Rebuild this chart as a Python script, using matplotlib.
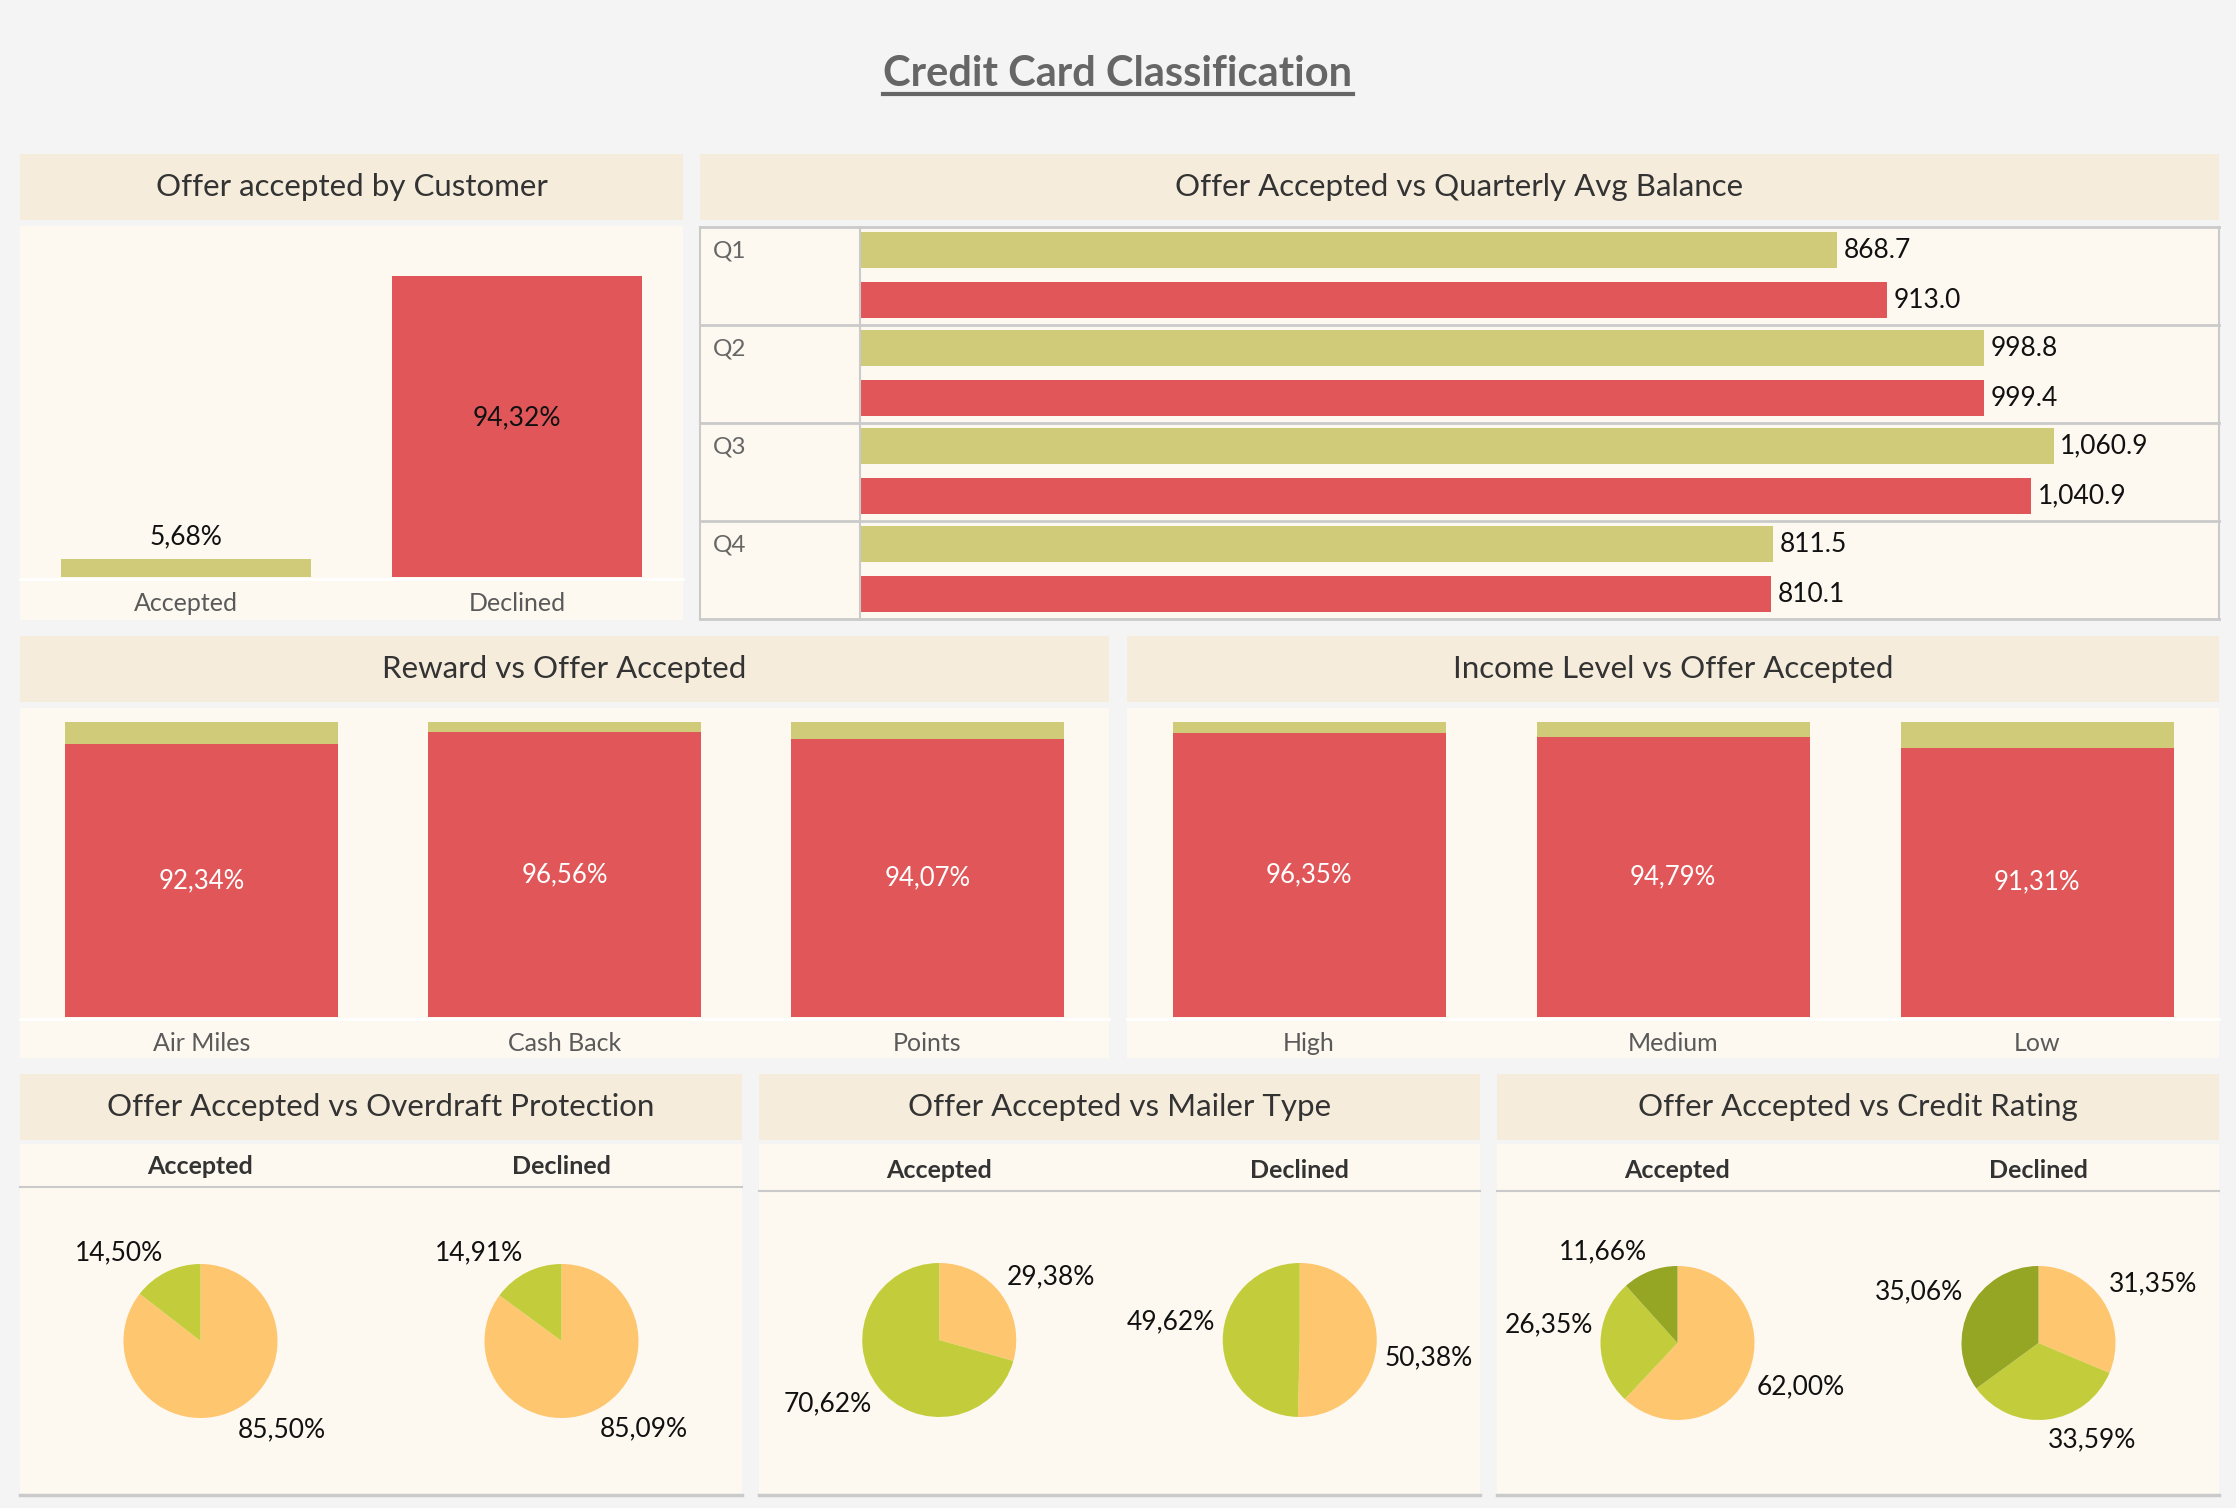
import numpy as np
import matplotlib
matplotlib.use("Agg")
from matplotlib import pyplot as plt
from matplotlib.patches import Rectangle
from matplotlib.lines import Line2D

plt.rcParams['font.family'] = ['Lato', 'DejaVu Sans']

# ---- data ----
offer_cats = ['Accepted', 'Declined']
offer_share = [5.68, 94.32]

quarters = ['Q1', 'Q2', 'Q3', 'Q4']
q_accepted = [868.7, 998.8, 1060.9, 811.5]
q_declined = [913.0, 999.4, 1040.9, 810.1]

reward_cats = ['Air Miles', 'Cash Back', 'Points']
reward_declined = [92.34, 96.56, 94.07]
reward_accepted = [7.66, 3.44, 5.93]

income_cats = ['High', 'Medium', 'Low']
income_declined = [96.35, 94.79, 91.31]
income_accepted = [3.65, 5.21, 8.69]

pie_cols = ['Accepted', 'Declined']
overdraft_acc = [85.50, 14.50]
overdraft_dec = [85.09, 14.91]
mailer_acc = [29.38, 70.62]
mailer_dec = [50.38, 49.62]
credit_acc = [62.00, 26.35, 11.66]
credit_dec = [31.35, 33.59, 35.06]

# ---- colours ----
PAGE = '#F4F4F4'
HEAD = '#F5ECDC'
BODY = '#FDF9F0'
OLIVE = '#CFCB79'
RED = '#E15759'
ORANGE = '#FDC66F'
GREEN = '#C3CD3C'
DKGREEN = '#95A524'
GRID = '#CACACA'
TXT = '#333333'
TICK = '#5A5A5A'

W, H = 2236, 1508
fig = plt.figure(figsize=(W / 100, H / 100), dpi=100)
fig.patch.set_facecolor(PAGE)


def rect(x0, y0, x1, y1):
    return [x0 / W, 1 - y1 / H, (x1 - x0) / W, (y1 - y0) / H]


def box(x0, y0, x1, y1, color):
    fig.add_artist(Rectangle((x0 / W, 1 - y1 / H), (x1 - x0) / W, (y1 - y0) / H,
                             transform=fig.transFigure, facecolor=color,
                             edgecolor='none', zorder=0))


def hline(x0, x1, y, color=GRID, lw=1.5):
    fig.add_artist(Line2D([x0 / W, x1 / W], [1 - y / H, 1 - y / H],
                          transform=fig.transFigure, color=color, lw=lw, zorder=1))


def vline(x, y0, y1, color=GRID, lw=1.5):
    fig.add_artist(Line2D([x / W, x / W], [1 - y0 / H, 1 - y1 / H],
                          transform=fig.transFigure, color=color, lw=lw, zorder=1))


def ftext(x, y, s, **kw):
    return fig.text(x / W, 1 - y / H, s, **kw)


def panel(x0, x1, hy0, hy1, by0, by1, title):
    box(x0, hy0, x1, hy1, HEAD)
    box(x0, by0, x1, by1, BODY)
    ftext((x0 + x1) / 2, (hy0 + hy1) / 2, title, ha='center', va='center',
          fontsize=22.5, color=TXT)


def pct(v):
    return f'{v:.2f}%'.replace('.', ',')


# ---- title (underlined) ----
t = ftext(1118, 74, 'Credit Card Classification', ha='center', va='center',
          fontsize=30, fontweight='bold', color='#666666')
bb = t.get_window_extent(renderer=fig.canvas.get_renderer())
hline(bb.x0, bb.x1, 94, color='#666666', lw=3)

# ---- row 1 left: offer accepted ----
panel(20, 683, 154, 220, 226, 620, 'Offer accepted by Customer')
hline(20, 683, 579, color='#FFFFFF', lw=2)
ax = fig.add_axes(rect(20, 226, 683, 577))
ax.set_facecolor('none')
ax.bar(range(2), offer_share, width=0.754, color=[OLIVE, RED])
ax.set_xlim(-0.5, 1.5)
ax.set_ylim(0, 110)
for s in ax.spines.values():
    s.set_visible(False)
ax.set_yticks([])
ax.set_xticks(range(2), offer_cats)
ax.tick_params(axis='x', length=0, pad=11, labelsize=18, labelcolor=TICK)
ax.annotate(pct(offer_share[0]), (0, offer_share[0]), xytext=(0, 7),
            textcoords='offset points', ha='center', va='bottom', fontsize=19, color='#111111')
ax.text(1, offer_share[1] * 0.53, pct(offer_share[1]), ha='center', va='center',
        fontsize=19, color='#111111')

# ---- row 1 right: quarterly balance ----
panel(700, 2219, 154, 220, 226, 620, 'Offer Accepted vs Quarterly Avg Balance')
lab = fig.add_axes(rect(700, 227, 860, 619))
lab.set_facecolor('none')
lab.set_xlim(0, 1)
lab.set_ylim(len(quarters), 0)
lab.axis('off')
for i, q in enumerate(quarters):
    lab.text(0.08, i + 0.24, q, ha='left', va='center', fontsize=17.5, color='#666666')

ax = fig.add_axes(rect(860, 227, 2219, 619))
ax.set_facecolor('none')
y = np.arange(len(quarters))
ax.barh(y + 0.235, q_accepted, height=0.367, color=OLIVE)
ax.barh(y + 0.745, q_declined, height=0.367, color=RED)
ax.set_xlim(0, 1208)
ax.set_ylim(len(quarters), 0)
ax.axis('off')
for i in range(len(quarters)):
    ax.text(q_accepted[i] + 6, i + 0.235, f'{q_accepted[i]:,.1f}', ha='left',
            va='center', fontsize=19, color='#111111')
    ax.text(q_declined[i] + 6, i + 0.745, f'{q_declined[i]:,.1f}', ha='left',
            va='center', fontsize=19, color='#111111')
row_h = (619 - 227) / len(quarters)
for i in range(len(quarters) + 1):
    hline(700, 2219, 227 + i * row_h, lw=2)
vline(860, 227, 619)
vline(700, 227, 619)
vline(2219, 227, 619)


# ---- row 2: stacked 100% bars ----
def stacked(x0, x1, title, cats, dec, acc):
    panel(x0, x1, 636, 702, 708, 1058, title)
    hline(x0, x1, 1019, color='#FFFFFF', lw=2)
    ax = fig.add_axes(rect(x0, 708, x1, 1017))
    ax.set_facecolor('none')
    xs = np.arange(len(cats))
    ax.bar(xs, dec, width=0.75, color=RED)
    ax.bar(xs, acc, bottom=dec, width=0.75, color=OLIVE)
    ax.set_xlim(-0.5, len(cats) - 0.5)
    ax.set_ylim(0, 104.7)
    for s in ax.spines.values():
        s.set_visible(False)
    ax.set_yticks([])
    ax.set_xticks(xs, cats)
    ax.tick_params(axis='x', length=0, pad=11, labelsize=18, labelcolor=TICK)
    for xi, d in zip(xs, dec):
        ax.text(xi, d / 2, pct(d), ha='center', va='center', fontsize=18.5, color='white')


stacked(20, 1109, 'Reward vs Offer Accepted', reward_cats, reward_declined, reward_accepted)
stacked(1127, 2219, 'Income Level vs Offer Accepted', income_cats, income_declined, income_accepted)

# ---- row 3: pies ----
R = 77


def pie(cx, cy, vals, colors):
    half = 160
    ax = fig.add_axes(rect(cx - half, cy - half, cx + half, cy + half))
    ax.set_facecolor('none')
    wedges, _ = ax.pie(vals, colors=colors, startangle=90, counterclock=False,
                       radius=1, wedgeprops=dict(linewidth=0))
    ax.set_xlim(-half / R, half / R)
    ax.set_ylim(-half / R, half / R)
    ax.set_aspect('equal')
    ax.axis('off')
    for w, v in zip(wedges, vals):
        ang = np.deg2rad((w.theta1 + w.theta2) / 2)
        c, s = np.cos(ang), np.sin(ang)
        ha = 'left' if c > 0.05 else ('right' if c < -0.05 else 'center')
        if s > 0.3:
            va, ty = 'bottom', 1.1 * s
        elif s < -0.3:
            va, ty = 'top', 1.1 * s
        else:
            # tableau nudges side labels off the horizontal
            va, ty = 'center', 1.1 * s + 0.22 * np.sign(s)
        ax.text(1.1 * c, ty, pct(v), ha=ha, va=va, fontsize=19, color='#111111')


def pie_panel(x0, x1, title, acc, dec, colors, hy, sy, cy):
    panel(x0, x1, 1074, 1140, 1144, 1495, title)
    hline(x0, x1, sy, lw=1.5)
    hline(x0, x1, 1495, lw=2.5)
    q = (x1 - x0) / 4
    for k, (name, vals) in enumerate(zip(pie_cols, [acc, dec])):
        cx = x0 + q * (1 + 2 * k)
        ftext(cx, hy, name, ha='center', va='center', fontsize=18,
              fontweight='bold', color=TXT)
        pie(cx, cy, vals, colors)


pie_panel(20, 742, 'Offer Accepted vs Overdraft Protection', overdraft_acc, overdraft_dec,
          [ORANGE, GREEN], 1167, 1187, 1341)
pie_panel(759, 1480, 'Offer Accepted vs Mailer Type', mailer_acc, mailer_dec,
          [ORANGE, GREEN], 1171, 1191, 1340)
pie_panel(1497, 2219, 'Offer Accepted vs Credit Rating', credit_acc, credit_dec,
          [ORANGE, GREEN, DKGREEN], 1171, 1191, 1343)

fig.savefig('out.png', dpi=100, facecolor=fig.get_facecolor())
